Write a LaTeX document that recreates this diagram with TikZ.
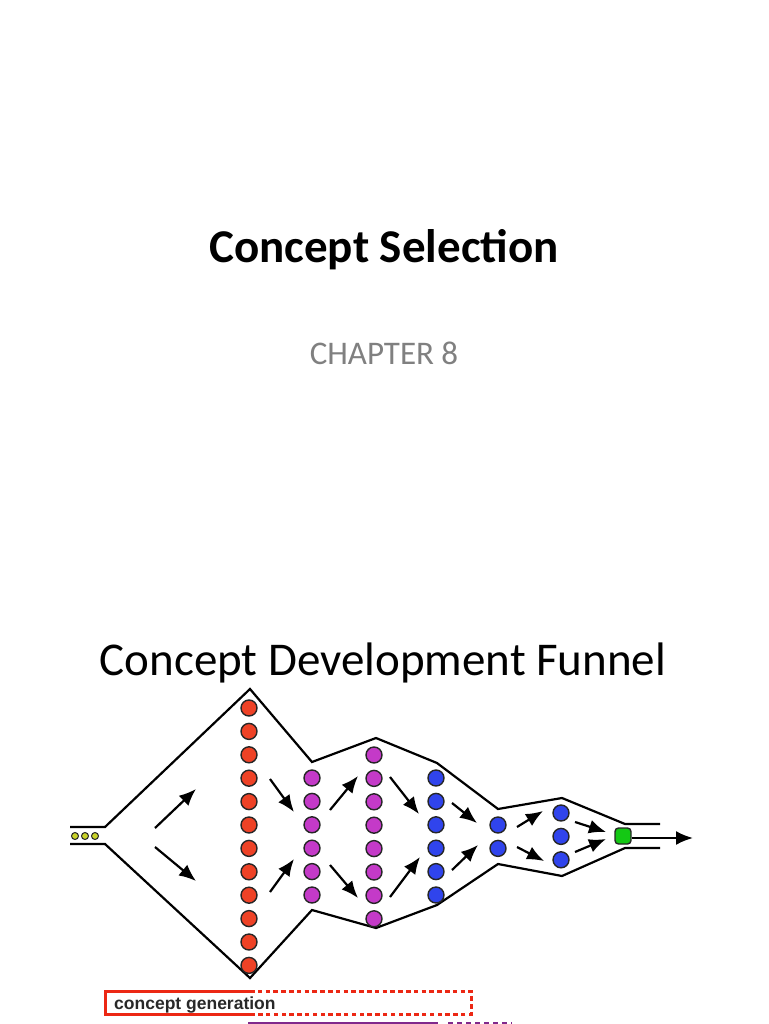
\documentclass[tikz,border=0pt]{standalone}
\usepackage{fontspec}
\setmainfont{Carlito}
\newfontfamily\arialfont{Liberation Sans}
\usetikzlibrary{arrows.meta}
\definecolor{dotred}{RGB}{238,66,38}
\definecolor{dotpurple}{RGB}{196,58,200}
\definecolor{dotblue}{RGB}{48,68,236}
\definecolor{dotgreen}{RGB}{20,200,20}
\definecolor{dotyellow}{RGB}{200,210,40}
\definecolor{boxred}{RGB}{236,40,20}
\definecolor{linepurple}{RGB}{128,40,140}
\definecolor{subgray}{RGB}{128,128,128}
\definecolor{textdark}{RGB}{40,40,40}
\tikzset{
  dotbase/.style={circle,draw=black!85,line width=1.4pt,minimum size=16pt,inner sep=0pt},
  reddot/.style={dotbase,fill=dotred},
  purpledot/.style={dotbase,fill=dotpurple},
  bluedot/.style={dotbase,fill=dotblue},
  greendot/.style={rectangle,rounded corners=3.5pt,draw=black!85,line width=1.4pt,fill=dotgreen,minimum size=16pt,inner sep=0pt},
  smalldot/.style={circle,draw=black!85,line width=1pt,fill=dotyellow,minimum size=7pt,inner sep=0pt},
  funnel/.style={line width=2.2pt,black,line join=miter},
  flow/.style={line width=2.2pt,-{Latex[length=17pt,width=14pt]}},
  boxsolid/.style={line width=3pt,boxred},
  boxdash/.style={line width=3pt,boxred,dash pattern=on 4.5pt off 3.3pt},
}
\begin{document}
\begin{tikzpicture}[x=1pt,y=-1pt]
\useasboundingbox (0,0) rectangle (768,1024);
% titles
\node[anchor=base,font=\bfseries\fontsize{47}{52}\selectfont] (title) at (384,262) {Concept Selection};
\node[anchor=base,font=\fontsize{33}{38}\selectfont,text=subgray] (chap) at (384,364) {CHAPTER 8};
\node[anchor=base,font=\fontsize{47}{52}\selectfont] (ftitle) at (383,675) {Concept Development Funnel};
% funnel outline
\draw[funnel] (70,827) -- (105,827) -- (250,689) -- (312,762) -- (376,738) -- (437,763) -- (498,809) -- (562,798) -- (625,824) -- (660,824);
\draw[funnel] (70,844) -- (105,844) -- (250,978) -- (312,910) -- (376,928) -- (437,905) -- (498,864) -- (562,876) -- (625,848) -- (660,848);
% input dots
\foreach \i/\x in {1/75,2/85,3/95} \node[smalldot] (in\i) at (\x,836) {};
% red column
\foreach \i in {1,...,12} \node[reddot] (r\i) at (249,{708+(\i-1)*23.4}) {};
% purple columns
\foreach \i in {1,...,6} \node[purpledot] (pa\i) at (312,{778+(\i-1)*23.4}) {};
\foreach \i in {1,...,8} \node[purpledot] (pb\i) at (374,{755+(\i-1)*23.4}) {};
% blue columns
\foreach \i in {1,...,6} \node[bluedot] (ba\i) at (436,{778+(\i-1)*23.4}) {};
\foreach \i in {1,2} \node[bluedot] (bb\i) at (498,{825+(\i-1)*23.4}) {};
\foreach \i in {1,2,3} \node[bluedot] (bc\i) at (561,{813+(\i-1)*23.4}) {};
% green
\node[greendot] (g) at (623,836) {};
% flow arrows
\draw[flow] (155,828) -- (196,789);
\draw[flow] (155,847) -- (196,881);
\draw[flow] (270,779) -- (294,812);
\draw[flow] (270,892) -- (294,859);
\draw[flow] (330,810) -- (358,776);
\draw[flow] (330,865) -- (358,898);
\draw[flow] (390,777) -- (419,814);
\draw[flow] (390,897) -- (420,857);
\draw[flow] (452,803) -- (477,823);
\draw[flow] (452,870) -- (478,845);
\draw[flow] (517,827) -- (543,811);
\draw[flow] (517,847) -- (544,861);
\draw[flow] (575,822) -- (606,832);
\draw[flow] (575,852) -- (606,839);
\coordinate (out) at (693,838);
\draw[flow] (g.east) ++(0,2) -- (out);
% bottom legend
\draw[boxsolid] (250,991) -- (105,991) -- (105,1014) -- (250,1014);
\draw[boxdash] (250,991) -- (471,991) -- (471,1014) -- (250,1014);
\node[anchor=base west,font=\arialfont\bfseries\fontsize{17.5}{19}\selectfont,text=textdark,inner sep=0pt] (gen) at (114,1009) {concept generation};
\draw[line width=3pt,linepurple] (248,1023.5) -- (438,1023.5);
\draw[line width=3pt,linepurple,dash pattern=on 5pt off 4pt] (448,1023.5) -- (512,1023.5);
\end{tikzpicture}
\end{document}
